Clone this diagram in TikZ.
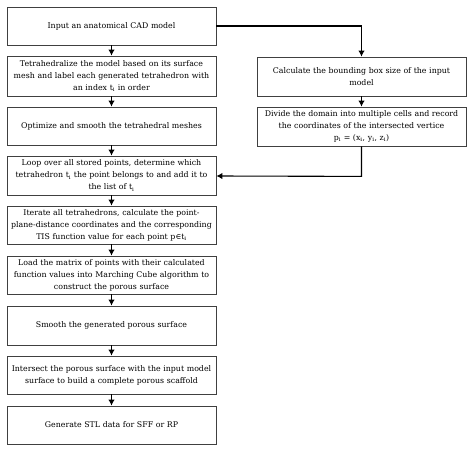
\documentclass[tikz,border=0pt]{standalone}
\usepackage{fontspec}
\setmainfont{DejaVu Serif}
\usetikzlibrary{arrows.meta}
\begin{document}
\begin{tikzpicture}[x=1pt,y=-1pt,
  box/.style={draw=black!75,line width=0.8pt,minimum width=209pt,text width=207pt,align=center,inner sep=0pt,font=\fontsize{7.85}{12}\selectfont},
  arr/.style={line width=1.1pt,-{Latex[length=6pt,width=6.5pt]}}]
\useasboundingbox (0,0) rectangle (474,450);
\node[box,minimum height=38pt] (b1) at (111.5,26) {Input an anatomical CAD model};
\node[box,minimum height=40pt] (b2) at (111.5,76) {Tetrahedralize the model based on its surface\\ mesh and label each generated tetrahedron with\\ an index t\textsubscript{i} in order};
\node[box,minimum height=38pt] (b3) at (111.5,126) {Optimize and smooth the tetrahedral meshes};
\node[box,minimum height=39pt] (b4) at (111.5,175.5) {Loop over all stored points, determine which\\ tetrahedron t\textsubscript{i} the point belongs to and add it to\\ the list of t\textsubscript{i}};
\node[box,minimum height=38pt] (b5) at (111.5,225) {Iterate all tetrahedrons, calculate the point-\\plane-distance coordinates and the corresponding\\ TIS function value for each point p∈t\textsubscript{i}};
\node[box,minimum height=38pt] (b6) at (111.5,275) {Load the matrix of points with their calculated\\ function values into Marching Cube algorithm to\\ construct the porous surface};
\node[box,minimum height=39pt] (b7) at (111.5,325.5) {Smooth the generated porous surface};
\node[box,minimum height=38pt] (b8) at (111.5,375) {Intersect the porous surface with the input model\\ surface to build a complete porous scaffold};
\node[box,minimum height=38pt] (b9) at (111.5,425) {Generate STL data for SFF or RP};
\node[box,minimum height=39pt] (r1) at (361.5,76.5) {Calculate the bounding box size of the input\\ model};
\node[box,minimum height=39pt] (r2) at (361.5,126.5) {Divide the domain into multiple cells and record\\ the coordinates of the intersected vertice\\ p\textsubscript{i} = (x\textsubscript{i}, y\textsubscript{i}, z\textsubscript{i})};
\foreach \a/\b in {b1/b2,b2/b3,b3/b4,b4/b5,b5/b6,b6/b7,b7/b8,b8/b9,r1/r2}
  \draw[arr] (\a) -- (\b);
\draw[arr] (b1.east) -| (r1.north);
\draw[arr] (r2.south) |- ++(0,30) -- (b4.east |- 0,176);
\end{tikzpicture}
\end{document}
